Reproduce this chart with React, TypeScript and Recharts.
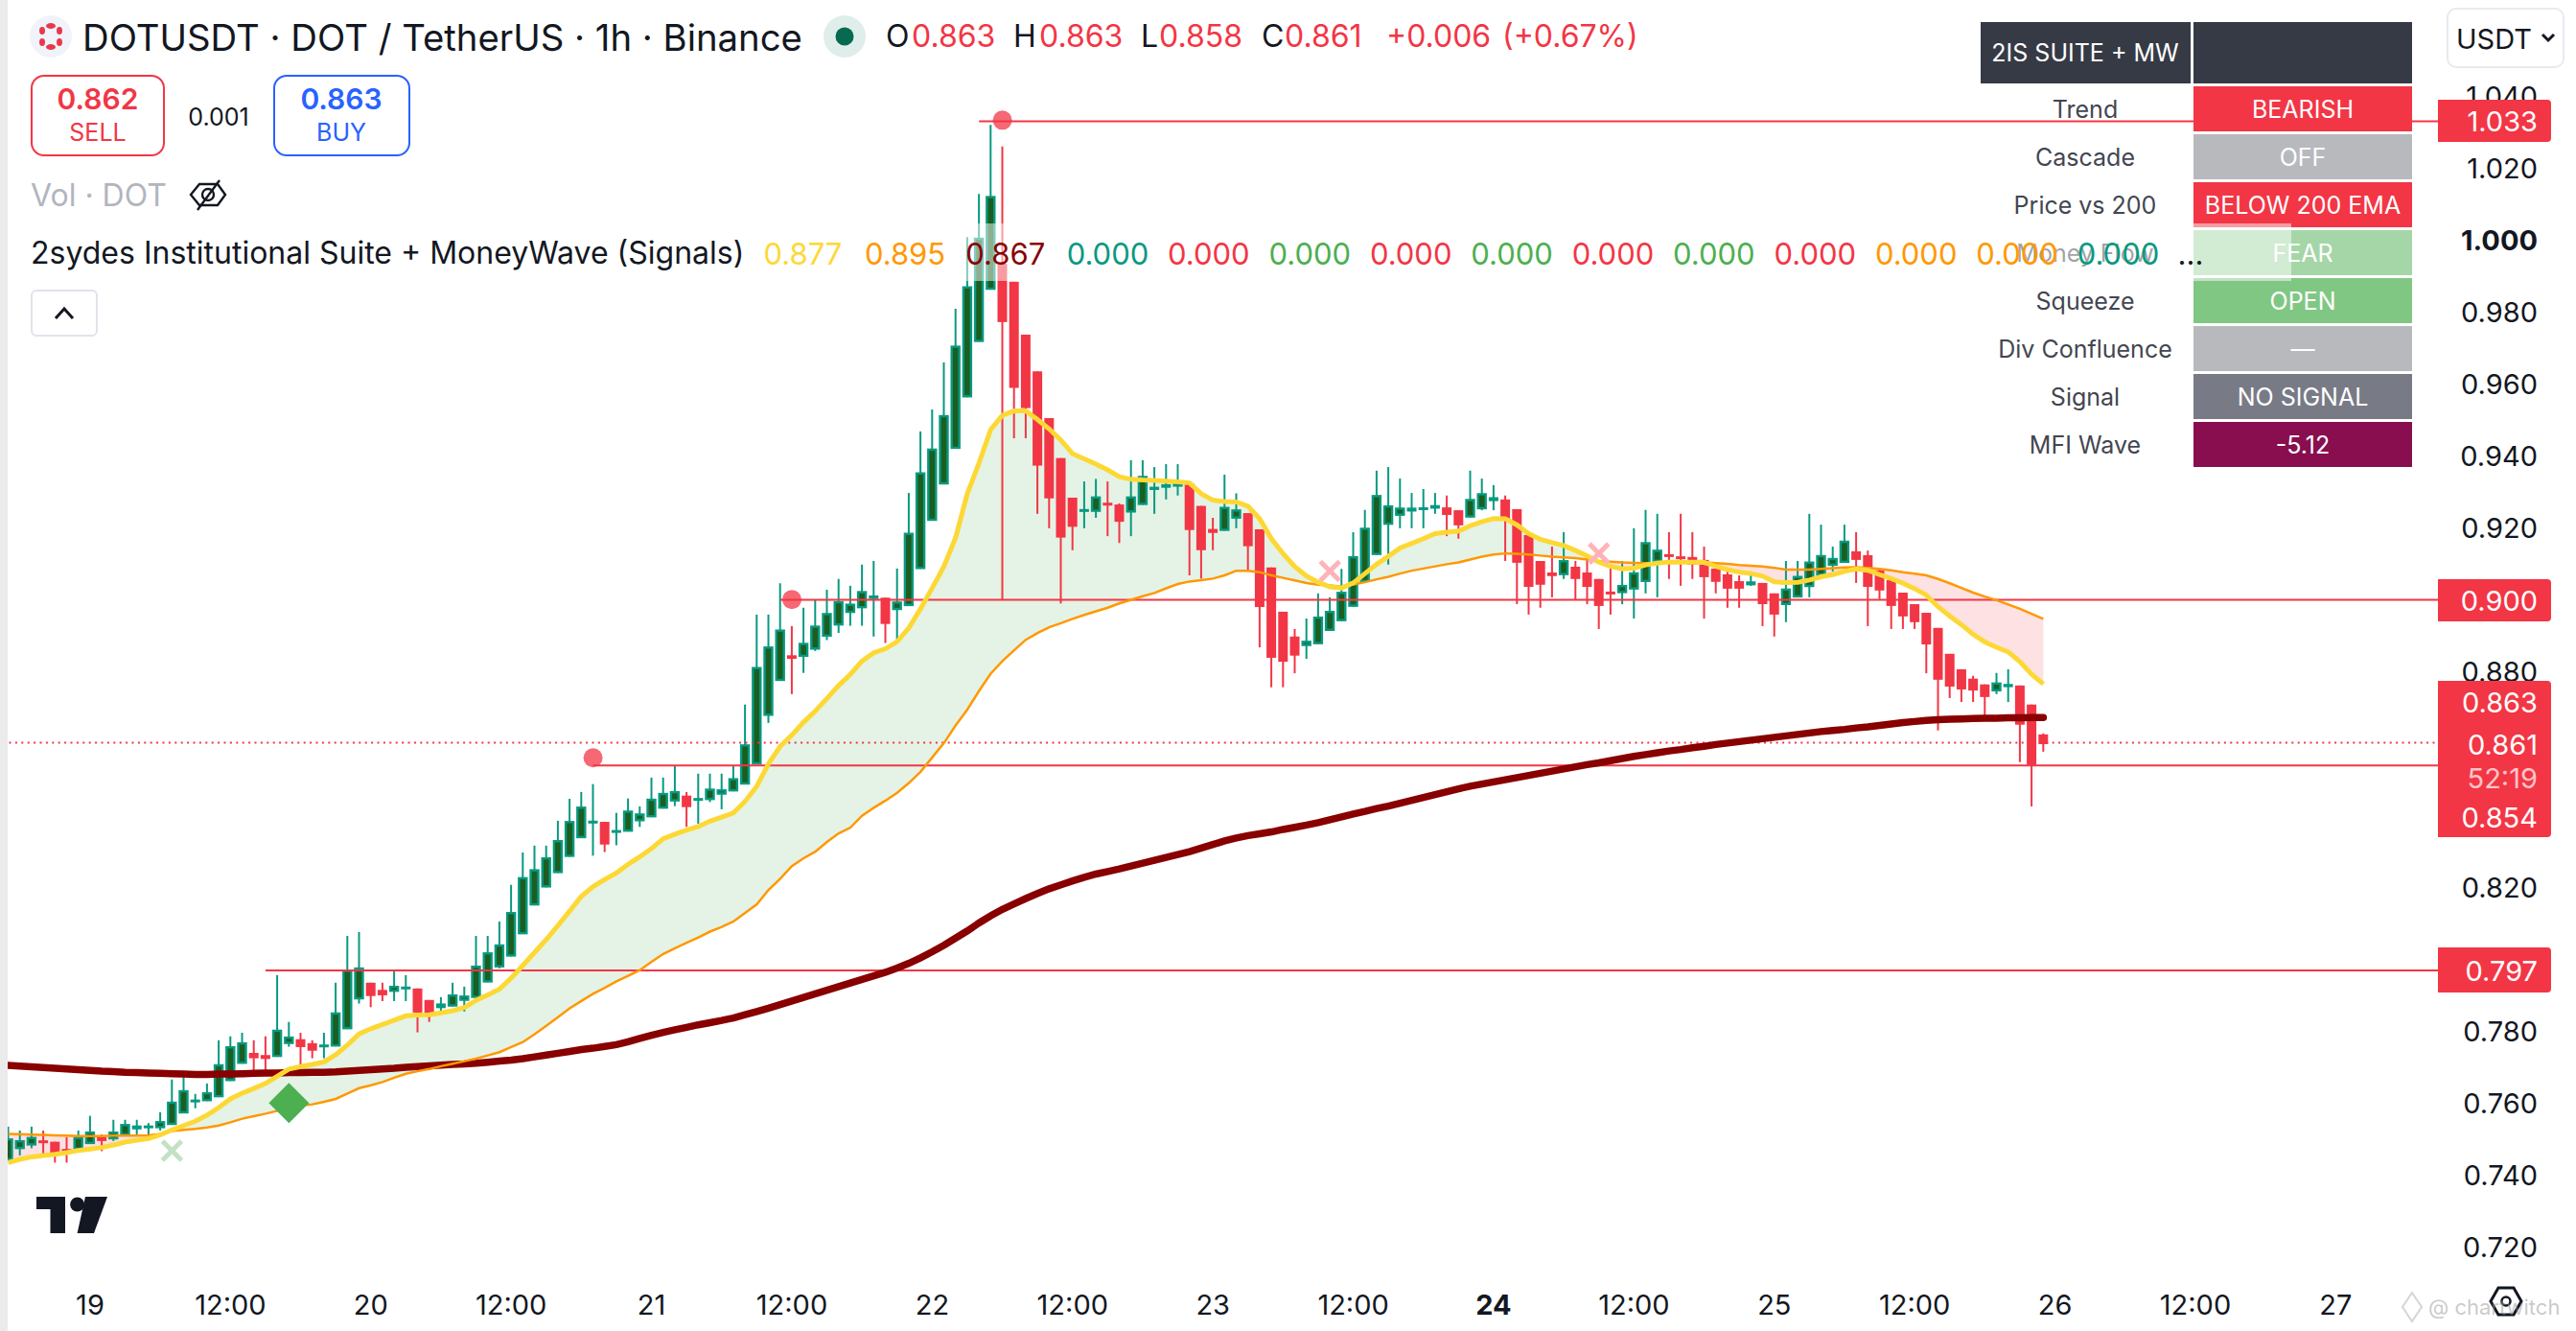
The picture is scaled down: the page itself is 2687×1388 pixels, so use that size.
import * as React from "react"
import {
  ComposedChart, Bar, Line, Area, XAxis, YAxis, ReferenceLine, ReferenceDot
} from "recharts"

const FONT = "Inter, 'Noto Sans', sans-serif"
const RED = "#f23645"
const TEAL = "#089981"
const DARK_GREEN = "#1b5e20"

// hours since 19th 00:00 of the first candle, and last empty slot on the right
const FIRST_HOUR = -7
const LAST_SLOT = 201

// 10 candles per row, first row starts at hour -7
const opens = [
  0.7443, 0.7474, 0.7484, 0.7498, 0.7494, 0.7474, 0.7472, 0.7488, 0.7507, 0.7501,
  0.7512, 0.7527, 0.7535, 0.7532, 0.7541, 0.7573, 0.7605, 0.7607, 0.7618, 0.7663,
  0.7711, 0.7741, 0.7735, 0.7730, 0.7766, 0.7779, 0.7768, 0.7759, 0.7759, 0.7807,
  0.7890, 0.7936, 0.7916, 0.7911, 0.7922, 0.7920, 0.7888, 0.7864, 0.7870, 0.7886,
  0.7894, 0.7937, 0.7979, 0.8009, 0.8071, 0.8151, 0.8201, 0.8241, 0.8286, 0.8338,
  0.8383, 0.8383, 0.8351, 0.8356, 0.8385, 0.8396, 0.8420, 0.8440, 0.8456, 0.8441,
  0.8444, 0.8459, 0.8468, 0.8487, 0.8543, 0.8678, 0.8775, 0.8846, 0.8842, 0.8862,
  0.8898, 0.8929, 0.8964, 0.8977, 0.9001, 0.9006, 0.8972, 0.8983, 0.9086, 0.9220,
  0.9321, 0.9420, 0.9563, 0.9717, 0.9862, 0.9934, 0.9884, 0.9737, 0.9635, 0.9505,
  0.9394, 0.9284, 0.9243, 0.9245, 0.9270, 0.9265, 0.9243, 0.9264, 0.9304, 0.9310,
  0.9315, 0.9323, 0.9261, 0.9197, 0.9192, 0.9226, 0.9241, 0.9196, 0.9090, 0.8967,
  0.8898, 0.8872, 0.8877, 0.8914, 0.8941, 0.8981, 0.9050, 0.9125, 0.9209, 0.9234,
  0.9244, 0.9253, 0.9252, 0.9257, 0.9249, 0.9229, 0.9252, 0.9273, 0.9279, 0.9252,
  0.9180, 0.9108, 0.9076, 0.9069, 0.9092, 0.9076, 0.9058, 0.9023, 0.9019, 0.9029,
  0.9050, 0.9106, 0.9127, 0.9121, 0.9119, 0.9111, 0.9087, 0.9071, 0.9052, 0.9039,
  0.9047, 0.9018, 0.8986, 0.9007, 0.9036, 0.9068, 0.9095, 0.9103, 0.9135, 0.9124,
  0.9082, 0.9055, 0.9020, 0.8988, 0.8964, 0.8922, 0.8850, 0.8807, 0.8781, 0.8765,
  0.8746, 0.8756, 0.8762, 0.8709, 0.8626,
]
const closes = [
  0.7503, 0.7498, 0.7507, 0.7495, 0.7456, 0.7467, 0.7507, 0.7522, 0.7496, 0.7522,
  0.7543, 0.7538, 0.7538, 0.7551, 0.7605, 0.7637, 0.7610, 0.7631, 0.7709, 0.7759,
  0.7770, 0.7726, 0.7724, 0.7805, 0.7786, 0.7757, 0.7747, 0.7763, 0.7853, 0.7972,
  0.7978, 0.7899, 0.7901, 0.7927, 0.7924, 0.7853, 0.7843, 0.7877, 0.7903, 0.7900,
  0.7983, 0.8020, 0.8042, 0.8132, 0.8229, 0.8251, 0.8284, 0.8332, 0.8385, 0.8425,
  0.8385, 0.8320, 0.8359, 0.8414, 0.8406, 0.8447, 0.8463, 0.8468, 0.8424, 0.8448,
  0.8475, 0.8473, 0.8504, 0.8598, 0.8813, 0.8870, 0.8917, 0.8836, 0.8880, 0.8928,
  0.8963, 0.8996, 0.8989, 0.9024, 0.9011, 0.8933, 0.8995, 0.9186, 0.9354, 0.9420,
  0.9513, 0.9706, 0.9871, 1.0006, 1.0122, 0.9772, 0.9589, 0.9533, 0.9373, 0.9282,
  0.9173, 0.9203, 0.9251, 0.9287, 0.9266, 0.9217, 0.9287, 0.9344, 0.9313, 0.9320,
  0.9330, 0.9194, 0.9138, 0.9186, 0.9258, 0.9251, 0.9149, 0.8980, 0.8839, 0.8828,
  0.8845, 0.8886, 0.8953, 0.8969, 0.9022, 0.9121, 0.9200, 0.9291, 0.9262, 0.9256,
  0.9255, 0.9256, 0.9262, 0.9236, 0.9207, 0.9280, 0.9296, 0.9284, 0.9223, 0.9103,
  0.9036, 0.9042, 0.9066, 0.9110, 0.9058, 0.9036, 0.8983, 0.9018, 0.9041, 0.9076,
  0.9160, 0.9139, 0.9121, 0.9113, 0.9098, 0.9063, 0.9050, 0.9031, 0.9031, 0.9050,
  0.8988, 0.8959, 0.9031, 0.9066, 0.9106, 0.9124, 0.9116, 0.9164, 0.9111, 0.9036,
  0.9026, 0.8983, 0.8954, 0.8938, 0.8876, 0.8778, 0.8759, 0.8751, 0.8748, 0.8730,
  0.8770, 0.8765, 0.8653, 0.8541, 0.8599,
]
const highs = [
  0.7536, 0.7525, 0.7536, 0.7525, 0.7494, 0.7507, 0.7525, 0.7566, 0.7514, 0.7555,
  0.7555, 0.7555, 0.7546, 0.7576, 0.7667, 0.7677, 0.7627, 0.7656, 0.7776, 0.7787,
  0.7797, 0.7776, 0.7787, 0.7957, 0.7827, 0.7797, 0.7776, 0.7797, 0.7936, 0.8066,
  0.8077, 0.7936, 0.7936, 0.7969, 0.7957, 0.7920, 0.7888, 0.7896, 0.7936, 0.7925,
  0.8066, 0.8066, 0.8106, 0.8208, 0.8298, 0.8317, 0.8317, 0.8386, 0.8447, 0.8466,
  0.8488, 0.8383, 0.8408, 0.8448, 0.8426, 0.8506, 0.8506, 0.8539, 0.8466, 0.8517,
  0.8517, 0.8517, 0.8539, 0.8709, 0.8959, 0.8959, 0.9046, 0.8927, 0.8978, 0.8999,
  0.9028, 0.9058, 0.9039, 0.9098, 0.9108, 0.9006, 0.9087, 0.9297, 0.9468, 0.9529,
  0.9660, 0.9809, 1.0008, 1.0128, 1.0320, 1.0260, 0.9884, 0.9737, 0.9635, 0.9505,
  0.9394, 0.9284, 0.9329, 0.9336, 0.9329, 0.9268, 0.9388, 0.9388, 0.9369, 0.9377,
  0.9377, 0.9323, 0.9261, 0.9228, 0.9348, 0.9296, 0.9241, 0.9196, 0.9090, 0.8967,
  0.8919, 0.8948, 0.9018, 0.9007, 0.9086, 0.9188, 0.9250, 0.9359, 0.9369, 0.9337,
  0.9297, 0.9308, 0.9297, 0.9290, 0.9249, 0.9359, 0.9337, 0.9319, 0.9290, 0.9252,
  0.9180, 0.9108, 0.9148, 0.9188, 0.9108, 0.9119, 0.9058, 0.9098, 0.9108, 0.9199,
  0.9250, 0.9239, 0.9188, 0.9239, 0.9188, 0.9148, 0.9097, 0.9079, 0.9068, 0.9079,
  0.9047, 0.9018, 0.9108, 0.9108, 0.9239, 0.9209, 0.9148, 0.9209, 0.9188, 0.9137,
  0.9087, 0.9055, 0.9020, 0.8988, 0.8964, 0.8922, 0.8850, 0.8807, 0.8789, 0.8765,
  0.8797, 0.8807, 0.8762, 0.8709, 0.8629,
]
const lows = [
  0.7443, 0.7456, 0.7476, 0.7456, 0.7436, 0.7436, 0.7472, 0.7488, 0.7468, 0.7496,
  0.7512, 0.7514, 0.7514, 0.7525, 0.7541, 0.7573, 0.7587, 0.7607, 0.7618, 0.7663,
  0.7711, 0.7687, 0.7678, 0.7730, 0.7758, 0.7708, 0.7726, 0.7726, 0.7759, 0.7807,
  0.7878, 0.7868, 0.7885, 0.7885, 0.7885, 0.7798, 0.7827, 0.7856, 0.7870, 0.7856,
  0.7894, 0.7937, 0.7976, 0.8009, 0.8071, 0.8151, 0.8201, 0.8241, 0.8286, 0.8338,
  0.8289, 0.8299, 0.8318, 0.8356, 0.8369, 0.8396, 0.8420, 0.8427, 0.8369, 0.8378,
  0.8438, 0.8418, 0.8468, 0.8487, 0.8543, 0.8658, 0.8775, 0.8738, 0.8797, 0.8858,
  0.8888, 0.8908, 0.8928, 0.8928, 0.8898, 0.8880, 0.8886, 0.8983, 0.9086, 0.9220,
  0.9321, 0.9420, 0.9563, 0.9717, 0.9862, 0.9001, 0.9449, 0.9449, 0.9239, 0.9199,
  0.8990, 0.9138, 0.9199, 0.9228, 0.9177, 0.9158, 0.9177, 0.9264, 0.9239, 0.9279,
  0.9290, 0.9068, 0.9059, 0.9138, 0.9192, 0.9199, 0.9079, 0.8868, 0.8757, 0.8757,
  0.8796, 0.8836, 0.8877, 0.8914, 0.8941, 0.8981, 0.9050, 0.9125, 0.9098, 0.9199,
  0.9199, 0.9199, 0.9239, 0.9177, 0.9170, 0.9229, 0.9249, 0.9249, 0.9108, 0.8988,
  0.8959, 0.8978, 0.9007, 0.9058, 0.8999, 0.8988, 0.8919, 0.8959, 0.8988, 0.8948,
  0.9018, 0.9007, 0.9058, 0.9039, 0.9058, 0.8948, 0.9018, 0.8978, 0.8978, 0.9039,
  0.8927, 0.8898, 0.8938, 0.9007, 0.9007, 0.9068, 0.9079, 0.9103, 0.9047, 0.8927,
  0.9002, 0.8919, 0.8919, 0.8919, 0.8796, 0.8637, 0.8727, 0.8716, 0.8716, 0.8677,
  0.8738, 0.8716, 0.8549, 0.8426, 0.8578,
]

const fastEma = [
  0.7436, 0.7445, 0.7452, 0.7456, 0.7459, 0.7464, 0.7470, 0.7474, 0.7478, 0.7485,
  0.7493, 0.7498, 0.7503, 0.7513, 0.7527, 0.7539, 0.7551, 0.7568, 0.7589, 0.7613,
  0.7629, 0.7642, 0.7656, 0.7676, 0.7696, 0.7703, 0.7709, 0.7716, 0.7736, 0.7763,
  0.7794, 0.7808, 0.7820, 0.7832, 0.7844, 0.7846, 0.7847, 0.7852, 0.7858, 0.7867,
  0.7887, 0.7902, 0.7918, 0.7949, 0.7984, 0.8020, 0.8056, 0.8095, 0.8135, 0.8176,
  0.8203, 0.8223, 0.8241, 0.8265, 0.8286, 0.8309, 0.8336, 0.8349, 0.8360, 0.8370,
  0.8385, 0.8396, 0.8408, 0.8440, 0.8482, 0.8544, 0.8593, 0.8624, 0.8660, 0.8691,
  0.8726, 0.8762, 0.8793, 0.8830, 0.8853, 0.8864, 0.8884, 0.8922, 0.8975, 0.9033,
  0.9093, 0.9173, 0.9295, 0.9380, 0.9473, 0.9513, 0.9525, 0.9525, 0.9501, 0.9475,
  0.9444, 0.9406, 0.9392, 0.9377, 0.9361, 0.9342, 0.9335, 0.9333, 0.9332, 0.9330,
  0.9328, 0.9325, 0.9295, 0.9277, 0.9273, 0.9272, 0.9260, 0.9225, 0.9170, 0.9128,
  0.9092, 0.9066, 0.9049, 0.9036, 0.9033, 0.9047, 0.9073, 0.9099, 0.9121, 0.9144,
  0.9157, 0.9170, 0.9184, 0.9188, 0.9191, 0.9206, 0.9217, 0.9226, 0.9225, 0.9208,
  0.9184, 0.9168, 0.9159, 0.9151, 0.9137, 0.9122, 0.9105, 0.9093, 0.9086, 0.9088,
  0.9097, 0.9102, 0.9105, 0.9105, 0.9105, 0.9104, 0.9093, 0.9084, 0.9077, 0.9073,
  0.9066, 0.9050, 0.9048, 0.9049, 0.9055, 0.9064, 0.9070, 0.9079, 0.9086, 0.9082,
  0.9070, 0.9059, 0.9046, 0.9031, 0.9013, 0.8981, 0.8955, 0.8931, 0.8904, 0.8883,
  0.8868, 0.8855, 0.8828, 0.8793, 0.8766,
]
const slowEma = [
  0.7516, 0.7515, 0.7514, 0.7513, 0.7512, 0.7511, 0.7510, 0.7510, 0.7510, 0.7511,
  0.7511, 0.7511, 0.7512, 0.7516, 0.7524, 0.7527, 0.7530, 0.7534, 0.7539, 0.7548,
  0.7558, 0.7565, 0.7572, 0.7580, 0.7589, 0.7594, 0.7598, 0.7605, 0.7613, 0.7628,
  0.7643, 0.7651, 0.7660, 0.7672, 0.7683, 0.7690, 0.7696, 0.7704, 0.7711, 0.7718,
  0.7725, 0.7734, 0.7743, 0.7757, 0.7771, 0.7793, 0.7816, 0.7840, 0.7865, 0.7885,
  0.7905, 0.7922, 0.7940, 0.7955, 0.7971, 0.7994, 0.8016, 0.8032, 0.8047, 0.8062,
  0.8078, 0.8091, 0.8106, 0.8130, 0.8154, 0.8194, 0.8225, 0.8260, 0.8282, 0.8300,
  0.8327, 0.8351, 0.8367, 0.8400, 0.8422, 0.8442, 0.8464, 0.8491, 0.8522, 0.8562,
  0.8602, 0.8651, 0.8695, 0.8747, 0.8795, 0.8830, 0.8860, 0.8889, 0.8908, 0.8924,
  0.8935, 0.8947, 0.8958, 0.8968, 0.8978, 0.8990, 0.9000, 0.9010, 0.9019, 0.9032,
  0.9044, 0.9051, 0.9055, 0.9059, 0.9068, 0.9081, 0.9081, 0.9077, 0.9068, 0.9061,
  0.9054, 0.9047, 0.9042, 0.9040, 0.9037, 0.9043, 0.9049, 0.9057, 0.9064, 0.9073,
  0.9081, 0.9087, 0.9093, 0.9099, 0.9104, 0.9112, 0.9120, 0.9126, 0.9129, 0.9128,
  0.9126, 0.9123, 0.9120, 0.9118, 0.9116, 0.9112, 0.9108, 0.9106, 0.9104, 0.9103,
  0.9102, 0.9103, 0.9105, 0.9105, 0.9105, 0.9104, 0.9102, 0.9100, 0.9097, 0.9095,
  0.9093, 0.9089, 0.9084, 0.9084, 0.9084, 0.9086, 0.9088, 0.9090, 0.9091, 0.9089,
  0.9086, 0.9082, 0.9077, 0.9073, 0.9068, 0.9058, 0.9046, 0.9033, 0.9020, 0.9009,
  0.8999, 0.8987, 0.8975, 0.8961, 0.8947,
]
const ema200 = [
  0.7706, 0.7704, 0.7702, 0.7700, 0.7698, 0.7696, 0.7694, 0.7692, 0.7690, 0.7689,
  0.7687, 0.7686, 0.7685, 0.7684, 0.7683, 0.7682, 0.7681, 0.7681, 0.7682, 0.7682,
  0.7683, 0.7684, 0.7685, 0.7685, 0.7686, 0.7686, 0.7687, 0.7687, 0.7688, 0.7690,
  0.7692, 0.7694, 0.7696, 0.7698, 0.7701, 0.7703, 0.7705, 0.7707, 0.7709, 0.7710,
  0.7712, 0.7715, 0.7718, 0.7721, 0.7725, 0.7730, 0.7735, 0.7740, 0.7745, 0.7750,
  0.7754, 0.7759, 0.7764, 0.7772, 0.7781, 0.7790, 0.7798, 0.7805, 0.7812, 0.7819,
  0.7825, 0.7831, 0.7838, 0.7847, 0.7856, 0.7865, 0.7875, 0.7885, 0.7895, 0.7905,
  0.7915, 0.7925, 0.7935, 0.7945, 0.7955, 0.7965, 0.7977, 0.7990, 0.8005, 0.8022,
  0.8040, 0.8060, 0.8080, 0.8102, 0.8122, 0.8140, 0.8155, 0.8170, 0.8184, 0.8197,
  0.8208, 0.8219, 0.8229, 0.8238, 0.8245, 0.8252, 0.8260, 0.8268, 0.8276, 0.8284,
  0.8292, 0.8300, 0.8310, 0.8320, 0.8330, 0.8338, 0.8345, 0.8350, 0.8355, 0.8362,
  0.8368, 0.8374, 0.8381, 0.8389, 0.8397, 0.8405, 0.8412, 0.8420, 0.8427, 0.8435,
  0.8443, 0.8451, 0.8459, 0.8467, 0.8475, 0.8482, 0.8488, 0.8494, 0.8500, 0.8506,
  0.8512, 0.8518, 0.8524, 0.8530, 0.8536, 0.8542, 0.8547, 0.8553, 0.8559, 0.8565,
  0.8570, 0.8575, 0.8580, 0.8584, 0.8589, 0.8593, 0.8598, 0.8602, 0.8606, 0.8610,
  0.8614, 0.8618, 0.8622, 0.8626, 0.8630, 0.8634, 0.8637, 0.8640, 0.8644, 0.8647,
  0.8651, 0.8655, 0.8659, 0.8662, 0.8665, 0.8667, 0.8668, 0.8669, 0.8670, 0.8671,
  0.8671, 0.8672, 0.8672, 0.8673, 0.8673,
]

const priceTicks = [
  0.72, 0.74, 0.76, 0.78, 0.8, 0.82, 0.84, 0.86, 0.88, 0.9, 0.92, 0.94, 0.96, 0.98, 1, 1.02, 1.04,
]
const timeTickHours = [0, 12, 24, 36, 48, 60, 72, 84, 96, 108, 120, 132, 144, 156, 168, 180, 192]
const timeTickLabels = [
  "19", "12:00", "20", "12:00", "21", "12:00", "22", "12:00", "23",
  "12:00", "24", "12:00", "25", "12:00", "26", "12:00", "27",
]

const pivotLevels = [
  { hour: 76, price: 1.033 },
  { hour: 59, price: 0.9 },
  { hour: 43, price: 0.854 },
  { hour: 15, price: 0.797 },
]
const pivotDots = [
  { hour: 78, price: 1.0333 },
  { hour: 60, price: 0.9001 },
  { hour: 43, price: 0.8561 },
]
const lastPrice = 0.8603

const tableLabels = ["Trend", "Cascade", "Price vs 200", "Money Flow", "Squeeze", "Div Confluence", "Signal", "MFI Wave"]
const tableValues = ["BEARISH", "OFF", "BELOW 200 EMA", "FEAR", "OPEN", "—", "NO SIGNAL", "-5.12"]
const tableColors = [RED, "#b8b9bd", RED, "#a5d6a7", "#81c784", "#b8b9bd", "#787b86", "#880e4f"]

const legendValues = ["0.877", "0.895", "0.867", "0.000", "0.000", "0.000", "0.000", "0.000", "0.000", "0.000", "0.000", "0.000", "0.000", "0.000"]
const legendColors = ["#fdd835", "#ff9800", "#880000", TEAL, RED, "#4caf50", RED, "#4caf50", RED, "#4caf50", RED, "#ff9800", "#ff9800", TEAL]

const rows: any[] = []
for (let hour = FIRST_HOUR; hour <= LAST_SLOT; hour++) {
  const i = hour - FIRST_HOUR
  if (i < opens.length) {
    const fast = fastEma[i]
    const slow = slowEma[i]
    rows.push({
      hour, open: opens[i], high: highs[i], low: lows[i], close: closes[i],
      fast, slow, trend: ema200[i],
      bullBand: [slow, Math.max(fast, slow)],
      bearBand: [Math.min(fast, slow), slow],
      range: [lows[i], highs[i]],
    })
  } else {
    rows.push({ hour })
  }
}

function Candle(props: any) {
  const { x, y, width, height, payload } = props
  if (payload.high == null) return null
  const h = Math.abs(height)
  const k = h / (payload.high - payload.low)
  const cx = x + width / 2
  const up = payload.close >= payload.open
  const top = y + (payload.high - Math.max(payload.open, payload.close)) * k
  const bodyH = Math.max(Math.abs(payload.open - payload.close) * k, 2)
  const wick = up ? TEAL : RED
  return (
    <g>
      <line x1={cx} x2={cx} y1={y} y2={y + h} stroke={wick} strokeWidth={2} />
      {up ? (
        bodyH > 5 ? (
          <rect x={x + 1} y={top + 1} width={width - 2} height={bodyH - 2} fill={DARK_GREEN} stroke={TEAL} strokeWidth={2.4} />
        ) : (
          <rect x={x} y={top - 0.5} width={width} height={Math.max(bodyH, 3)} fill={TEAL} />
        )
      ) : (
        <rect x={x} y={top} width={width} height={Math.max(bodyH, 3)} fill={RED} />
      )}
    </g>
  )
}

function PriceTick({ y, payload }: any) {
  return (
    <text x={2647} y={y} textAnchor="end" dominantBaseline="central" fontSize={29} fontFamily={FONT}
      fontWeight={payload.value === 1 ? 700 : 400} fill="#131722">
      {payload.value.toFixed(3)}
    </text>
  )
}

function TimeTick({ x, y, payload }: any) {
  const label = timeTickLabels[timeTickHours.indexOf(payload.value)]
  return (
    <text x={x} y={y + 12} textAnchor="middle" dominantBaseline="central" fontSize={29} fontFamily={FONT}
      fontWeight={label === "24" ? 700 : 400} fill="#131722">
      {label}
    </text>
  )
}

const crossShape = (color: string) => ({ cx, cy }: any) => (
  <g stroke={color} strokeWidth={5}>
    <line x1={cx - 10} y1={cy - 10} x2={cx + 10} y2={cy + 10} />
    <line x1={cx - 10} y1={cy + 10} x2={cx + 10} y2={cy - 10} />
  </g>
)
const diamondShape = ({ cx, cy }: any) => (
  <polygon points={`${cx},${cy - 21} ${cx + 21},${cy} ${cx},${cy + 21} ${cx - 21},${cy}`} fill="#4caf50" />
)

function Txt({ x, y, size, color = "#131722", weight = 400, align = "left", children }: any) {
  const tx = align === "center" ? "-50%" : align === "right" ? "-100%" : "0"
  return (
    <div style={{
      position: "absolute", left: x, top: y, transform: `translate(${tx},-50%)`, fontSize: size, color,
      fontWeight: weight, fontFamily: FONT, whiteSpace: "nowrap", lineHeight: 1,
    }}>
      {children}
    </div>
  )
}

function Box({ x, y, w, h, bg, border, radius, children }: any) {
  return (
    <div style={{
      position: "absolute", left: x, top: y, width: w, height: h, background: bg, border,
      borderRadius: radius, boxSizing: "border-box",
    }}>
      {children}
    </div>
  )
}

function PriceTag({ y, h, label }: any) {
  return (
    <>
      <Box x={2543} y={y} w={118} h={h} bg={RED} radius="0 4px 4px 0" />
      <Txt x={2647} y={y + h / 2} size={29} color="#fff" align="right">{label}</Txt>
    </>
  )
}

export default function App() {
  return (
    <div style={{ position: "fixed", left: 0, top: 0, width: 2687, height: 1388, background: "#fff", overflow: "hidden" }}>
      <ComposedChart width={2687} height={1388} data={rows} margin={{ top: 0, right: 0, bottom: 0, left: 2.5 }}>
        <XAxis dataKey="hour" scale="band" ticks={timeTickHours} interval={0} height={48} axisLine={false} tickLine={false} tick={<TimeTick />} />
        <YAxis orientation="right" type="number" domain={[0.7096, 1.0667]} ticks={priceTicks} width={134.7} axisLine={false} tickLine={false} tick={<PriceTick />} />
        <Area dataKey="bullBand" stroke="none" fill="#4caf50" fillOpacity={0.15} isAnimationActive={false} dot={false} activeDot={false} />
        <Area dataKey="bearBand" stroke="none" fill={RED} fillOpacity={0.15} isAnimationActive={false} dot={false} activeDot={false} />
        {pivotLevels.map((p) => (
          <ReferenceLine key={p.price} segment={[{ x: p.hour, y: p.price }, { x: LAST_SLOT, y: p.price }]} stroke={RED} strokeWidth={2} />
        ))}
        <ReferenceLine y={lastPrice} stroke={RED} strokeWidth={2} strokeDasharray="2 4.4" />
        <Line dataKey="trend" stroke="#880000" strokeWidth={7.5} strokeLinecap="round" dot={false} activeDot={false} isAnimationActive={false} />
        <Line dataKey="slow" stroke="#ff9800" strokeWidth={2.5} dot={false} activeDot={false} isAnimationActive={false} />
        <Line dataKey="fast" stroke="#fdd835" strokeWidth={5} dot={false} activeDot={false} isAnimationActive={false} />
        <Bar dataKey="range" barSize={10} shape={<Candle />} isAnimationActive={false} />
        {pivotDots.map((p) => (
          <ReferenceDot key={p.hour} x={p.hour} y={p.price} r={10} fill={RED} fillOpacity={0.75} stroke="none" />
        ))}
        <ReferenceDot x={17} y={0.7602} shape={diamondShape} />
        <ReferenceDot x={7} y={0.7469} shape={crossShape("#c3e2c5")} />
        <ReferenceDot x={106} y={0.908} shape={crossShape("#ffb3b8")} />
        <ReferenceDot x={129} y={0.9129} shape={crossShape("#ffb3b8")} />
      </ComposedChart>

      {/* left edge of the page */}
      <div style={{ position: "absolute", left: 0, top: 0, width: 8, height: 1388, background: "#ebebeb" }} />

      {/* header */}
      <svg style={{ position: "absolute", left: 0, top: 0 }} width={920} height={360}>
        <circle cx={53} cy={38} r={22} fill="#f0f3fa" />
        <g fill="#e8394a">
          <ellipse cx={53} cy={27} rx={5} ry={3} />
          <ellipse cx={53} cy={49} rx={5} ry={3} />
          <ellipse cx={44} cy={32} rx={3} ry={4} />
          <ellipse cx={62} cy={32} rx={3} ry={4} />
          <ellipse cx={44} cy={44} rx={3} ry={4} />
          <ellipse cx={62} cy={44} rx={3} ry={4} />
        </g>
        <circle cx={881} cy={38} r={22} fill="#dfeeeb" />
        <circle cx={881} cy={38} r={9.5} fill="#076950" />
        <g fill="none" stroke="#131722" strokeWidth={2.4}>
          <path d="M199 203 L208 192 H227 L235 203 L227 214 H208 Z" />
          <circle cx={217} cy={203} r={6} />
          <path d="M206 219 L229 188" />
        </g>
        <path d="M58 332 L67 322 L76 332" fill="none" stroke="#131722" strokeWidth={3} />
      </svg>
      <Txt x={86} y={39} size={38.3}>DOTUSDT · DOT / TetherUS · 1h · Binance</Txt>
      <Txt x={924} y={38} size={32}>O</Txt>
      <Txt x={951} y={38} size={32} color={RED}>0.863</Txt>
      <Txt x={1057} y={38} size={32}>H</Txt>
      <Txt x={1084} y={38} size={32} color={RED}>0.863</Txt>
      <Txt x={1190} y={38} size={32}>L</Txt>
      <Txt x={1209} y={38} size={32} color={RED}>0.858</Txt>
      <Txt x={1316} y={38} size={32}>C</Txt>
      <Txt x={1340} y={38} size={32} color={RED}>0.861</Txt>
      <Txt x={1446} y={38} size={32} color={RED}>+0.006</Txt>
      <Txt x={1567} y={38} size={32} color={RED}>(+0.67%)</Txt>

      <Box x={32} y={78} w={140} h={85} border={`2px solid ${RED}`} radius={14} />
      <Txt x={102} y={103} size={30} color={RED} weight={600} align="center">0.862</Txt>
      <Txt x={102} y={138} size={25} color={RED} align="center">SELL</Txt>
      <Txt x={228} y={122} size={25} align="center">0.001</Txt>
      <Box x={285} y={78} w={143} h={85} border="2px solid #2962ff" radius={14} />
      <Txt x={356} y={103} size={30} color="#2962ff" weight={600} align="center">0.863</Txt>
      <Txt x={356} y={138} size={25} color="#2962ff" align="center">BUY</Txt>
      <Txt x={32} y={204} size={32} color="#b2b5be">Vol · DOT</Txt>
      <Box x={32} y={302} w={70} h={49} border="2px solid #e0e3eb" radius={6} />

      {/* status table */}
      <Box x={2066} y={23} w={219} h={64} bg="#363a45" />
      <Box x={2288} y={23} w={228} h={64} bg="#363a45" />
      <Txt x={2175} y={55} size={25} color="#fff" align="center">2IS SUITE + MW</Txt>
      {tableLabels.map((label, i) => (
        <React.Fragment key={label}>
          <Txt x={2175} y={114 + i * 50} size={25} color="#434651" align="center">{label}</Txt>
          <Box x={2288} y={90 + i * 50} w={228} h={47} bg={tableColors[i]} />
          <Txt x={2402} y={114 + i * 50} size={25} color="#fff" align="center">{tableValues[i]}</Txt>
        </React.Fragment>
      ))}

      {/* indicator legend row */}
      <div style={{ position: "absolute", left: 8, top: 233, width: 2382, height: 60, background: "rgba(255,255,255,0.5)" }} />
      <Txt x={32} y={264} size={32}>2sydes Institutional Suite + MoneyWave (Signals)</Txt>
      {legendValues.map((v, i) => (
        <Txt key={i} x={796.5 + i * 105.4} y={264} size={31} color={legendColors[i]}>{v}</Txt>
      ))}
      <Txt x={2285} y={264} size={31} align="center">...</Txt>

      {/* price tags */}
      <PriceTag y={104} h={44} label="1.033" />
      <PriceTag y={604} h={44} label="0.900" />
      <PriceTag y={988} h={47} label="0.797" />
      <Box x={2543} y={710} w={118} h={163} bg={RED} radius="0 4px 4px 0" />
      <Txt x={2647} y={732} size={29} color="#fff" align="right">0.863</Txt>
      <Txt x={2647} y={776} size={29} color="#fff" align="right">0.861</Txt>
      <Txt x={2647} y={811} size={29} color="#ffc4c9" align="right">52:19</Txt>
      <Txt x={2647} y={852} size={29} color="#fff" align="right">0.854</Txt>

      {/* currency button */}
      <Box x={2552} y={8} w={123} h={63} bg="#fff" border="2px solid #e8eaf0" radius={10} />
      <Txt x={2562} y={40} size={29}>USDT</Txt>
      <svg style={{ position: "absolute", left: 2650, top: 34 }} width={16} height={12}>
        <path d="M2 2 L8 8 L14 2" fill="none" stroke="#131722" strokeWidth={3} />
      </svg>

      {/* logo, settings hex and watermark */}
      <svg style={{ position: "absolute", left: 0, top: 1240 }} width={2687} height={148}>
        <path d="M38 8 H68 V46 H52.5 V21 H38 Z" fill="#131722" />
        <circle cx={80.6} cy={16} r={7.5} fill="#131722" />
        <path d="M89 8 H112 L98 46 H80.6 Z" fill="#131722" />
        <path d="M2606 103 H2622 L2630 117 L2622 131 H2606 L2598 117 Z" fill="none" stroke="#131722" strokeWidth={3} />
        <circle cx={2614} cy={117} r={4.5} fill="none" stroke="#131722" strokeWidth={2.5} />
        <path d="M2516 108 L2526 123 L2516 138 L2506 123 Z" fill="none" stroke="#d5d5d5" strokeWidth={2} />
      </svg>
      <Txt x={2533} y={1363} size={22} color="rgba(150,150,150,0.5)">@ chartwitch</Txt>
    </div>
  )
}
